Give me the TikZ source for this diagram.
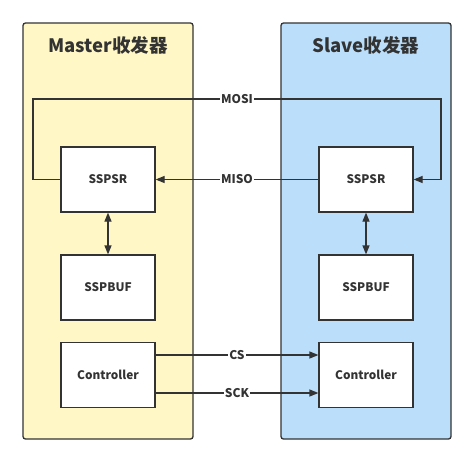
\documentclass[tikz,border=0pt]{standalone}
\usepackage{fontspec}
\setmainfont{Noto Sans CJK SC}
\usepackage{tikz}
\usetikzlibrary{arrows.meta}
\definecolor{masterfill}{HTML}{FFF7C6}
\definecolor{slavefill}{HTML}{BBDEFA}
\definecolor{edge}{HTML}{333333}
\tikzset{
  panel/.style={draw=edge, line width=1.3pt, rounded corners=2.5pt,
    minimum width=170pt, minimum height=416pt},
  title/.style={font=\fontsize{18.5}{20}\selectfont\bfseries, text=edge},
  unit/.style={draw=edge, fill=white, line width=1.2pt,
    minimum width=94pt, minimum height=65pt,
    font=\fontsize{11.8}{13}\selectfont\bfseries, text=edge},
  wire/.style={draw=edge, line width=1.2pt, -{Triangle[length=9pt,width=7pt]}},
  duplex/.style={draw=edge, line width=1.2pt,
    {Triangle[length=9pt,width=7pt]}-{Triangle[length=9pt,width=7pt]}},
  lbl/.style={fill=white, inner sep=1pt,
    font=\fontsize{12}{13}\selectfont\bfseries, text=edge},
}

\begin{document}
\begin{tikzpicture}[x=1pt, y=-1pt]
            \useasboundingbox (0, 0) rectangle (474, 463);

            % two transceivers
            \node[panel, fill=masterfill] (master) at (108, 231) {};
            \node[panel, fill=slavefill] (slave) at (366, 231) {};
            \node[title] (mtitle) at (108, 45) {Master收发器};
            \node[title] (stitle) at (366, 45) {Slave收发器};

            \node[unit] (mSR) at (108, 179.5) {SSPSR};
            \node[unit] (mBUF) at (108, 287.5) {SSPBUF};
            \node[unit] (mCtl) at (108, 375) {Controller};
            \node[unit] (sSR) at (366, 179.5) {SSPSR};
            \node[unit] (sBUF) at (366, 287.5) {SSPBUF};
            \node[unit] (sCtl) at (366, 375) {Controller};

            \coordinate (mosiL) at (33, 99);
            \coordinate (mosiR) at (441, 99);

            % links
            \draw[wire] (mSR.west) -| (mosiL) -- node[lbl] {MOSI} (mosiR) |- (sSR.east);
            \draw[wire] (sSR.west) -- node[lbl] {MISO} (mSR.east);
            \draw[duplex] (mSR) -- (mBUF);
            \draw[duplex] (sSR) -- (sBUF);
            \draw[wire] ([yshift=20pt]mCtl.east) -- node[lbl] {CS} ([yshift=20pt]sCtl.west);
            \draw[wire] ([yshift=-18pt]mCtl.east) -- node[lbl] {SCK} ([yshift=-18pt]sCtl.west);
        \end{tikzpicture}
\end{document}
